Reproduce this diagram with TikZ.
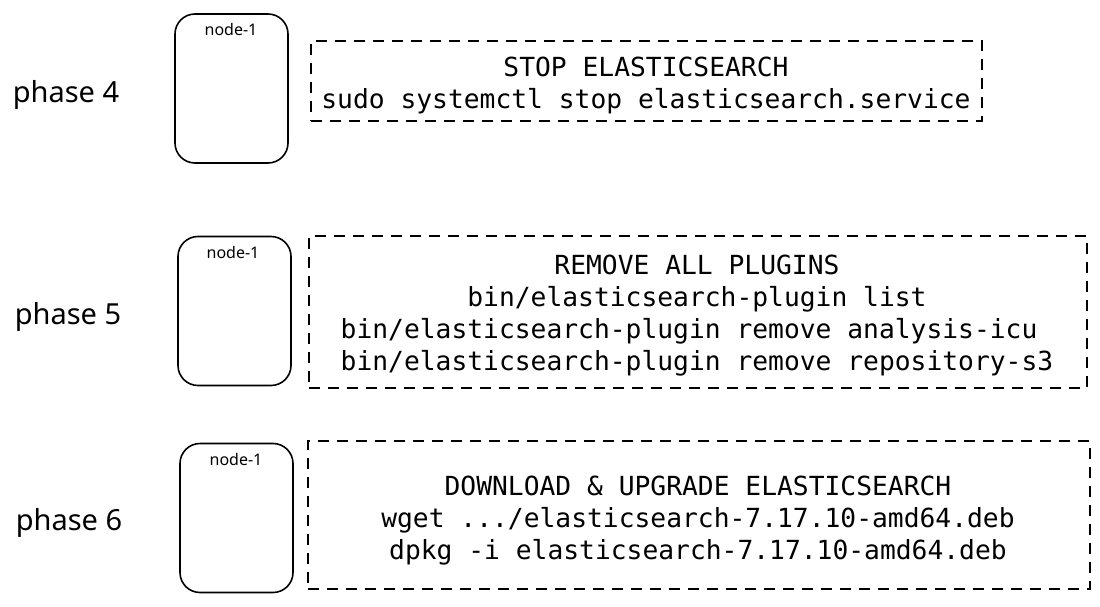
\documentclass[tikz,border=0pt]{standalone}
\usepackage{fontspec}
\setmainfont{Noto Sans}
\setmonofont{DejaVu Sans Mono}
\begin{document}
\begin{tikzpicture}
        [x=1pt,y=-1pt,
         phase/.style={font=\fontsize{29}{32}\selectfont},
         server/.style={draw, line width=1.6pt, rounded corners=20pt, minimum width=113pt, minimum height=149pt},
         tag/.style={font=\fontsize{16}{18}\selectfont},
         cmdbox/.style={draw, line width=1.6pt, dash pattern=on 11pt off 8pt, inner sep=0pt},
         cmds/.style={align=center, font=\ttfamily\fontsize{26.3}{32}\selectfont}]
      \useasboundingbox[fill=white] (0,0) rectangle (1100,607);

      % phase 4
      \node[phase] (p4) at (66,95) {phase 4};
      \node[server] (s4) at (231.5,88.5) {};
      \node[tag] (t4) at (231,30) {node-1};
      \node[cmdbox, minimum width=671pt, minimum height=80pt] (b4) at (646.5,81) {};
      \node[cmds] (c4) at (646,85) {STOP ELASTICSEARCH\\sudo systemctl stop elasticsearch.service};

      % phase 5
      \node[phase] (p5) at (68,317) {phase 5};
      \node[server] (s5) at (234.5,311) {};
      \node[tag] (t5) at (233,252) {node-1};
      \node[cmdbox, minimum width=778pt, minimum height=152pt] (b5) at (698,312) {};
      \node[cmds] (c5) at (697,316) {REMOVE ALL PLUGINS\\bin/elasticsearch-plugin list\\bin/elasticsearch-plugin remove analysis-icu\phantom{x}\\bin/elasticsearch-plugin remove repository-s3};

      % phase 6
      \node[phase] (p6) at (69,523) {phase 6};
      \node[server] (s6) at (236.5,518) {};
      \node[tag] (t6) at (236,459) {node-1};
      \node[cmdbox, minimum width=782pt, minimum height=148pt] (b6) at (699,515) {};
      \node[cmds] (c6) at (698,521) {DOWNLOAD \& UPGRADE ELASTICSEARCH\\wget .../elasticsearch-7.17.10-amd64.deb\\dpkg -i elasticsearch-7.17.10-amd64.deb};
    \end{tikzpicture}
\end{document}
